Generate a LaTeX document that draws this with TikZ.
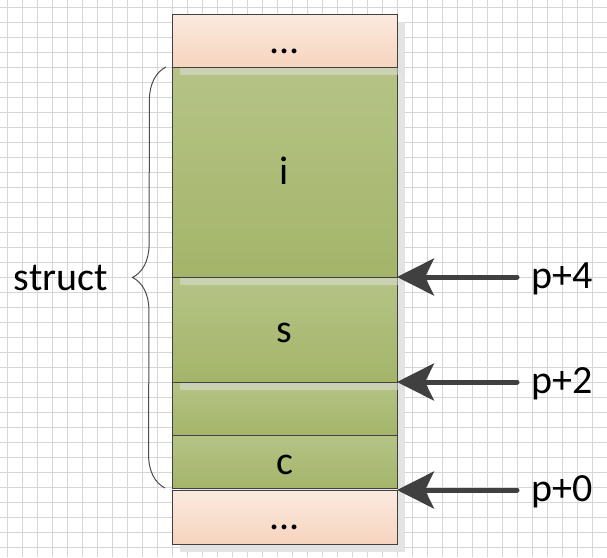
\documentclass[tikz,border=0pt]{standalone}
\usepackage{fontspec}
\setmainfont{Carlito}
\usetikzlibrary{arrows.meta, backgrounds, decorations.pathreplacing, positioning}
\definecolor{peachtop}{RGB}{251,234,223}
\definecolor{peachbot}{RGB}{246,212,190}
\definecolor{greentop}{RGB}{181,196,134}
\definecolor{greenbot}{RGB}{164,181,106}
\definecolor{edgegray}{RGB}{64,64,64}
\tikzstyle{cell}=[rectangle, draw=edgegray, line width=1pt, minimum width=225pt, inner sep=0pt, outer sep=0pt, text height=30pt, text depth=5pt, font=\fontsize{40}{48}\selectfont]
\tikzstyle{pad}=[cell, top color=peachtop, bottom color=peachbot]
\tikzstyle{field}=[cell, top color=greentop, bottom color=greenbot]
\tikzstyle{addr}=[inner sep=0pt, text height=30pt, text depth=8pt, font=\fontsize{40}{48}\selectfont]
\tikzstyle{ptr}=[draw=edgegray, line width=5pt, line cap=round, -{Stealth[length=37pt, width=37pt, inset=9pt]}, shorten <=14pt]
\tikzstyle{brc}=[draw=black!70, line width=1pt, decorate, decoration={brace, amplitude=33pt}]
\tikzstyle{gridline}=[draw=black!16, line width=1pt]
\tikzstyle{shadowbox}=[fill=black!11]
\tikzstyle{rimband}=[fill=black!12, opacity=0.5]

\begin{document}
\begin{tikzpicture}[x=1pt, y=-1pt]
  \useasboundingbox (0,0) rectangle (607,557);

  \node[pad, minimum height=53pt]    (top) at (284.5,40.5) {...};
  \node[field, minimum height=210pt] (i)   [below=0pt of top] {i};
  \node[field, minimum height=105pt] (s)   [below=0pt of i] {s};
  \node[field, minimum height=53pt]  (gap) [below=0pt of s] {};
  \node[field, minimum height=53pt]  (c)   [below=0pt of gap] {c};
  \node[pad, minimum height=54pt]    (bot) [below=2pt of c] {...};

  % light bands under the upper cells
  \fill[rimband] ([shift={(8,0.5)}]top.south west) rectangle ([shift={(8,8)}]top.south east);
  \fill[rimband] ([shift={(8,0.5)}]i.south west) rectangle ([shift={(8,8)}]i.south east);
  \fill[rimband] ([shift={(8,0.5)}]s.south west) rectangle ([shift={(8,8)}]s.south east);

  \node[addr] (p4) [right=134pt of i.south east] {p+4};
  \node[addr] (p2) [right=134pt of s.south east] {p+2};
  \node[addr] (p0) [right=134pt of bot.north east] {p+0};
  \node[addr] (st) [left=64pt of i.south west, yshift=-2pt] {struct};

  \draw[ptr] (p4) -- (i.south east);
  \draw[ptr] (p2) -- (s.south east);
  \draw[ptr] (p0) -- (bot.north east);

  \coordinate (btop) at ([xshift=-6pt]i.north west);
  \coordinate (bbot) at ([xshift=-7pt]c.south west);
  \draw[brc] (bbot) -- (btop);

  \begin{scope}[on background layer]
    \foreach \gx in {7,22,...,607} \draw[gridline] (\gx,0) -- (\gx,557);
    \foreach \gy in {7,22,...,547} \draw[gridline] (0,\gy) -- (607,\gy);
    \fill[shadowbox] ([shift={(8,8)}]top.north west) rectangle ([shift={(8,8)}]bot.south east);
  \end{scope}
\end{tikzpicture}
\end{document}
